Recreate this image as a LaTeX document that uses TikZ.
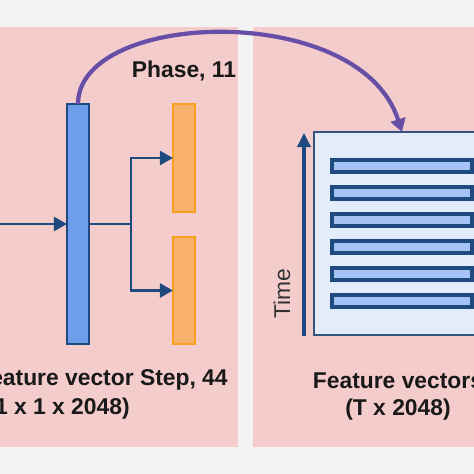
\documentclass[tikz,border=0pt]{standalone}
\usepackage{fontspec}
\setmainfont{Liberation Sans}
\usetikzlibrary{arrows.meta}
\definecolor{pagegray}{HTML}{F3F3F3}
\definecolor{panelpink}{HTML}{F4CCCC}
\definecolor{vecblue}{HTML}{6D9EEB}
\definecolor{darkblue}{HTML}{1F4A80}
\definecolor{outorange}{HTML}{F8B26B}
\definecolor{orangeline}{HTML}{F7A11F}
\definecolor{arcpurple}{HTML}{674EA7}
\definecolor{matfill}{HTML}{E3ECFB}
\definecolor{matline}{HTML}{34557F}
\definecolor{rowblue}{HTML}{A4C2F4}

\begin{document}
\begin{tikzpicture}[x=0.02cm, y=-0.02cm,
  bar/.style={draw, rectangle, inner sep=0pt, outer sep=0pt, minimum width=0.44cm},
  row/.style={draw=darkblue, fill=rowblue, line width=1.8pt, rectangle, inner sep=0pt,
    outer sep=0pt, minimum width=2.8cm, minimum height=0.24cm},
  flow/.style={darkblue, line width=1.6pt, -{Triangle[length=7.5pt, width=8pt]}},
  caption/.style={inner sep=0pt, text=black!90, font=\fontsize{13}{15}\selectfont\bfseries}]
  \useasboundingbox (0,0) rectangle (474,474);
  \fill[pagegray] (0,0) rectangle (474,474);
  % panels
  \fill[panelpink] (-30,27) rectangle (238,447);
  \fill[panelpink] (253,27) rectangle (500,447);

  % feature vector and its two outputs
  \node[bar, draw=darkblue, fill=vecblue, line width=1.2pt, minimum height=4.8cm] (vec) at (78,224) {};
  \node[bar, draw=orangeline, fill=outorange, line width=1.2pt, minimum height=2.16cm] (out1) at (184,158) {};
  \node[bar, draw=orangeline, fill=outorange, line width=1.2pt, minimum height=2.14cm] (out2) at (184,290.5) {};
  \coordinate (in) at (-5,224);
  \coordinate (split) at (131,224);
  \draw[flow] (in) -- (in -| vec.west);
  \draw[darkblue, line width=1.6pt] (in -| vec.east) -- (split);
  \draw[flow] (split) |- (out1.west);
  \draw[flow] (split) |- (out2.west);

  % stacked feature vectors
  \node[draw=matline, fill=matfill, line width=0.9pt, rectangle, inner sep=0pt, outer sep=0pt,
    minimum width=3.52cm, minimum height=4.06cm] (mat) at (402,233.5) {};
  \foreach \i in {0,...,5}
    \node[row] (row\i) at (402,{166+27*\i}) {};
  \coordinate (tbot) at (304,336);
  \coordinate (ttop) at (304,133);
  \draw[darkblue, line width=1.8pt, -{Triangle[length=8pt, width=7.5pt]}] (tbot) -- (ttop);
  \node[rotate=90, inner sep=0pt, text=black!80, font=\fontsize{13}{15}\selectfont] (time) at (282,294) {Time};

  % phase arc
  \draw[arcpurple, line width=2.4pt, -{Triangle[length=7.5pt, width=8.5pt]}]
    (vec.north) .. controls (78,10) and (360,0) .. (mat.north);
  \node[caption] (phase) at (184,71) {Phase, 11};

  % captions
  \node[caption, anchor=east] (capl1) at (228,380) {Feature vector Step, 44};
  \node[caption, anchor=east] (capl2) at (130,409) {(1 x 1 x 2048)};
  \node[caption] (capr1) at (398,381) {Feature vectors};
  \node[caption] (capr2) at (398,410) {(T x 2048)};
\end{tikzpicture}
\end{document}
